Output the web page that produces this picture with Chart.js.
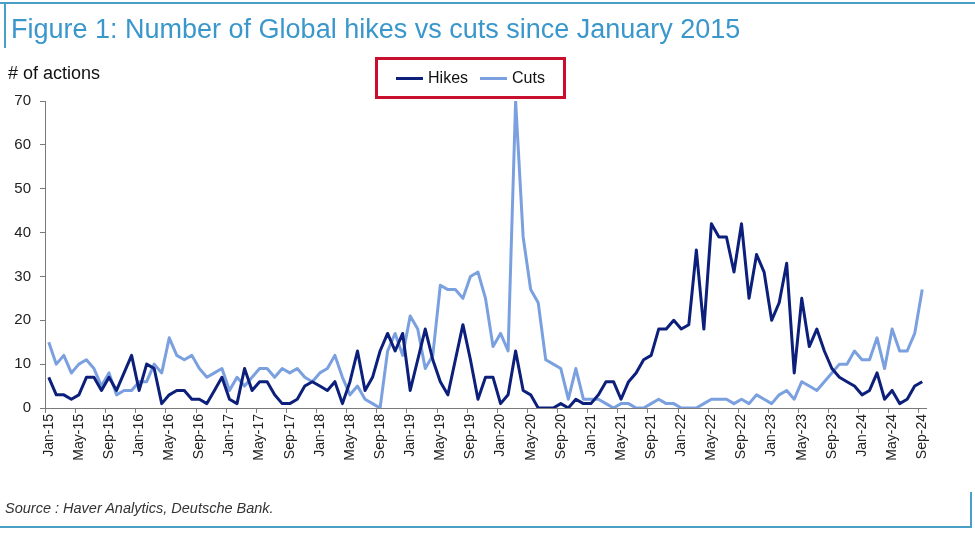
<!DOCTYPE html>
<html>
<head>
<meta charset="utf-8">
<script src="https://cdn.jsdelivr.net/npm/chart.js@4.4.1/dist/chart.umd.min.js"></script>
<style>
  body { margin: 0; background: #fff; font-family: "Liberation Sans", Arial, sans-serif; }
  #wrap { position: relative; width: 975px; height: 537px; overflow: hidden; background: #fff; }
  #chart { position: absolute; left: 0; top: 0; }
  .frame { position: absolute; background: #4a9fc6; }
  #title { position: absolute; left: 11px; top: 14px; font-size: 27px; color: #3a97cc; white-space: nowrap; line-height: 30px; }
  #yname { position: absolute; left: 8px; top: 63px; font-size: 18px; color: #111; white-space: nowrap; }
  #source { position: absolute; left: 5px; top: 500px; font-size: 14.5px; font-style: italic; color: #333; white-space: nowrap; }
  #legend { position: absolute; left: 375px; top: 57px; width: 185px; height: 36px; border: 3px solid #c8102e;
            display: flex; align-items: center; justify-content: center; font-size: 16px; color: #111; }
  .item { display: flex; align-items: center; margin: 0 6px; }
  .swatch { width: 27px; height: 3px; margin-right: 5px; }
</style>
</head>
<body>
<div id="wrap">
  <canvas id="chart" width="975" height="537"></canvas>
  <div class="frame" style="left:0;top:2px;width:975px;height:2px"></div>
  <div class="frame" style="left:4px;top:2px;width:2px;height:46px"></div>
  <div class="frame" style="left:0;top:526px;width:972px;height:2px"></div>
  <div class="frame" style="left:970px;top:492px;width:2px;height:36px"></div>
  <div id="title">Figure 1: Number of Global hikes vs cuts since January 2015</div>
  <div id="yname"># of actions</div>
  <div id="legend"></div>
  <div id="source">Source : Haver Analytics, Deutsche Bank.</div>
</div>
<script>
// monthly, Jan-15 .. Sep-24
const monthNames = ['Jan', 'Feb', 'Mar', 'Apr', 'May', 'Jun', 'Jul', 'Aug', 'Sep', 'Oct', 'Nov', 'Dec'];
const firstYear = 2015;
const monthCount = 117;
const categories = [];
for (let i = 0; i < monthCount; i++) {
    const yy = String(firstYear + Math.floor(i / 12)).slice(2);
    categories.push(monthNames[i % 12] + '-' + yy);
}

const seriesNames = ['Hikes', 'Cuts'];
const seriesColors = ['#0c1f7a', '#7ba0e0'];

const hikes = [
    7, 3, 3, 2, 3, 7, 7, 4, 7, 4, 8, 12,
    4, 10, 9, 1, 3, 4, 4, 2, 2, 1, 4, 7,
    2, 1, 9, 4, 6, 6, 3, 1, 1, 2, 5, 6,
    5, 4, 6, 1, 6, 13, 4, 7, 13, 17, 13, 17,
    4, 11, 18, 11, 6, 3, 11, 19, 11, 2, 7, 7,
    1, 3, 13, 4, 3, 0, 0, 0, 1, 0, 2, 1,
    1, 3, 6, 6, 2, 6, 8, 11, 12, 18, 18, 20,
    18, 19, 36, 18, 42, 39, 39, 31, 42, 25, 35, 31,
    20, 24, 33, 8, 25, 14, 18, 13, 9, 7, 6, 5,
    3, 4, 8, 2, 4, 1, 2, 5, 6
];

const cuts = [
    15, 10, 12, 8, 10, 11, 9, 5, 8, 3, 4, 4,
    6, 6, 10, 8, 16, 12, 11, 12, 9, 7, 8, 9,
    4, 7, 5, 7, 9, 9, 7, 9, 8, 9, 7, 6,
    8, 9, 12, 7, 3, 5, 2, 1, 0, 13, 17, 12,
    21, 18, 9, 12, 28, 27, 27, 25, 30, 31, 25, 14,
    17, 13, 70, 39, 27, 24, 11, 10, 9, 2, 9, 2,
    2, 2, 1, 0, 1, 1, 0, 0, 1, 2, 1, 1,
    0, 0, 0, 1, 2, 2, 2, 1, 2, 1, 3, 2,
    1, 3, 4, 2, 6, 5, 4, 6, 8, 10, 10, 13,
    11, 11, 16, 9, 18, 13, 13, 17, 27
];

const yTicks = [0, 10, 20, 30, 40, 50, 60, 70];
const labelEvery = 4;

// html legend inside the red box
const legendEl = document.getElementById('legend');
seriesNames.forEach(function (name, k) {
    const item = document.createElement('div');
    item.className = 'item';
    item.innerHTML = '<span class="swatch" style="background:' + seriesColors[k] + '"></span>' + name;
    legendEl.appendChild(item);
});

const axisColor = '#7a7a7a';

// tick marks on category boundaries, every 4 months
const boundaryTicks = {
    id: 'boundaryTicks',
    afterDraw: function (chart) {
        const xs = chart.scales.x;
        const ctx = chart.ctx;
        const half = (xs.getPixelForValue(1) - xs.getPixelForValue(0)) / 2;
        ctx.save();
        ctx.strokeStyle = axisColor;
        ctx.lineWidth = 1;
        ctx.beginPath();
        for (let i = 0; i < categories.length; i += labelEvery) {
            const x = Math.round(xs.getPixelForValue(i) - half) + 0.5;
            ctx.moveTo(x, xs.top);
            ctx.lineTo(x, xs.top + 5);
        }
        ctx.stroke();
        ctx.restore();
    }
};

new Chart(document.getElementById('chart').getContext('2d'), {
    type: 'line',
    data: {
        labels: categories,
        datasets: [
            { label: seriesNames[0], data: hikes, borderColor: seriesColors[0], borderWidth: 3, pointRadius: 0, tension: 0, borderJoinStyle: 'round' },
            { label: seriesNames[1], data: cuts, borderColor: seriesColors[1], borderWidth: 3, pointRadius: 0, tension: 0, borderJoinStyle: 'round' }
        ]
    },
    options: {
        responsive: false,
        animation: false,
        layout: { padding: { left: 0, top: 101, right: 49, bottom: 67 } },
        plugins: { legend: { display: false }, tooltip: { enabled: false } },
        scales: {
            x: {
                type: 'category',
                offset: true,
                grid: {
                    offset: true,
                    drawOnChartArea: false,
                    drawTicks: true,
                    tickLength: 5,
                    tickColor: 'rgba(0,0,0,0)'
                },
                border: { display: true, color: axisColor, width: 1 },
                ticks: {
                    autoSkip: false,
                    maxRotation: 90,
                    minRotation: 90,
                    padding: 1,
                    color: '#222',
                    font: { family: '"Liberation Sans", Arial, sans-serif', size: 14 },
                    callback: function (v, i) { return i % labelEvery === 0 ? categories[i] : null; }
                },
                afterFit: function (s) { s.height = 62; }
            },
            y: {
                min: yTicks[0],
                max: yTicks[yTicks.length - 1],
                afterBuildTicks: function (s) { s.ticks = yTicks.map(function (v) { return { value: v }; }); },
                grid: { drawOnChartArea: false, drawTicks: true, tickLength: 5, color: axisColor },
                border: { display: true, color: axisColor, width: 1 },
                ticks: {
                    padding: 9,
                    color: '#222',
                    font: { family: '"Liberation Sans", Arial, sans-serif', size: 15 }
                },
                afterFit: function (s) { s.width = 45; }
            }
        }
    },
    plugins: [boundaryTicks]
});
</script>
</body>
</html>
